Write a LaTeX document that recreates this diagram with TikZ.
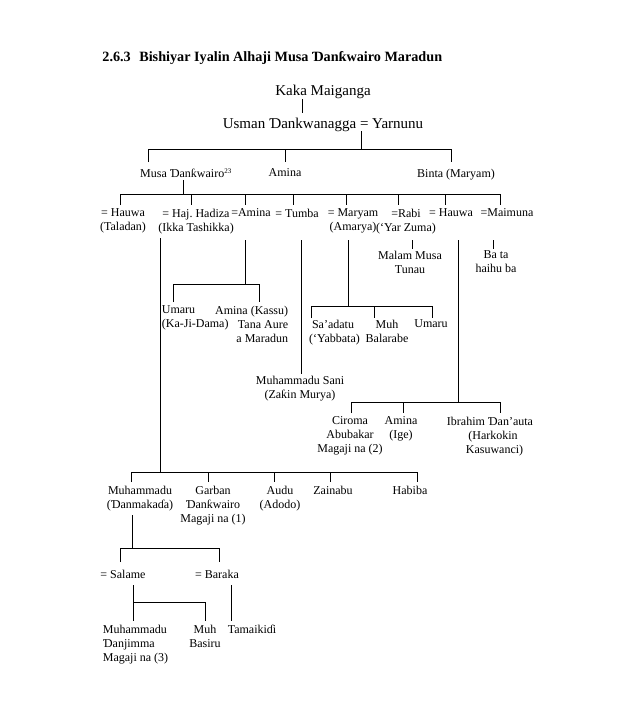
\documentclass[tikz,border=0pt]{standalone}
\usepackage{fontspec}
\setmainfont{Liberation Serif}
\begin{document}
\begin{tikzpicture}[
		x=1pt,y=-1pt,
		line width=0.8pt,
		name node/.style={anchor=north, inner sep=1.5pt, align=center, font=\fontsize{12}{14}\selectfont},
		big node/.style={anchor=north, inner sep=1.5pt, font=\fontsize{15}{17}\selectfont}
	]
		\useasboundingbox (0,0) rectangle (640,709);
		\node[anchor=base west,inner sep=0,font=\fontsize{14.2}{16}\selectfont\bfseries] (title) at (102,62)
		{2.6.3\hspace{0.6em}Bishiyar Iyalin Alhaji Musa Ɗanƙwairo Maradun};

		% generations 0 and 1
		\node[big node] (kaka) at (323,83) {Kaka Maiganga};
		\node[big node] (usman) at (323,116) {Usman Ɗankwanagga = Yarnunu};
		\draw (302,99) -- (302,113);
		\coordinate (uc) at (361,131);
		\draw (uc) -- (361,149);
		\draw (148,162) |- (451,149) -- (451,162);
		\draw (285,149) -- (285,162);

		\node[name node] (musa) at (186,167) {Musa Ɗanƙwairo\textsuperscript{\scriptsize 23}};
		\node[name node] (amina0) at (285,167) {Amina};
		\node[name node] (binta) at (456,167) {Binta (Maryam)};

		% wives of Musa
		\coordinate (mj) at (183,194);
		\draw (musa.south -| mj) -- (mj);
		\draw (120,205) |- (500,194) -- (500,205);
		\foreach \x in {191,245,293,346,398,445} {
			\draw (\x,194) -- (\x,205);
		}
		\node[name node] (w1) at (123,207) {= Hauwa\\(Taladan)};
		\node[name node] (w2) at (196,207) {= Haj.\ Hadiza\\(Ikka Tashikka)};
		\node[name node] (w3) at (251,207) {=Amina};
		\node[name node] (w4) at (297,207) {= Tumba};
		\node[name node] (w5) at (353,207) {= Maryam\\(Amarya)};
		\node[name node] (w6) at (406,207) {=Rabi\\(‘Yar Zuma)};
		\node[name node] (w7) at (451,207) {= Hauwa};
		\node[name node] (w8) at (507,207) {=Maimuna};

		% children of the wives
		\node[name node] (malam) at (410,249) {Malam Musa\\Tunau};
		\node[name node] (bata) at (496,249) {Ba ta\\haihu ba};
		\draw (412,240) -- (malam.north -| 412,0);
		\draw (493,240) -- (bata.north -| 493,0);

		\node[name node, anchor=north west, align=left] (umaru1) at (160,304) {Umaru\\(Ka-Ji-Dama)};
		\node[name node, anchor=north east, align=right] (kassu) at (290,304) {Amina (Kassu)\\Tana Aure\\a Maradun};
		\draw (245,240) -- (245,284);
		\draw (173,302) |- (259,284) -- (259,302);

		\node[name node] (sani) at (300,374) {Muhammadu Sani\\(Zaƙin Murya)};
		\draw (301,240) -- (sani.north -| 301,0);

		\node[name node] (saadatu) at (333,318) {Sa’adatu\\\ (‘Yabbata)};
		\node[name node] (balarabe) at (387,318) {Muh\\Balarabe};
		\node[name node] (umaru2) at (431,318) {Umaru};
		\draw (348,240) -- (348,306);
		\draw (311,318) |- (432,306) -- (432,318);
		\draw (374,306) -- (374,318);

		\node[name node] (ciroma) at (350,415) {Ciroma\\Abubakar\\Magaji na (2)};
		\node[name node] (ige) at (401,415) {Amina\\(Ige)};
		\node[name node] (ibrahim) at (490,415) {Ibrahim Ɗan’auta\\\ \ (Harkokin\\\ \ \ Kasuwanci)};
		\draw (458,240) -- (458,402);
		\draw (351,413) |- (500,402) -- (500,413);
		\draw (403,402) -- (403,413);

		% children of Hadiza
		\draw (160,238) -- (160,472);
		\draw (131,482) |- (417,472) -- (417,482);
		\foreach \x in {208,274,330} {
			\draw (\x,472) -- (\x,482);
		}
		\node[name node] (dmk) at (140,484) {Muhammadu\\(Ɗanmakaɗa)};
		\node[name node] (garban) at (213,484) {Garban\\Ɗanƙwairo\\Magaji na (1)};
		\node[name node] (audu) at (280,484) {Audu\\(Adodo)};
		\node[name node] (zainabu) at (333,484) {Zainabu};
		\node[name node] (habiba) at (410,484) {Habiba};

		% wives and children of Muhammadu
		\draw (132,515) -- (132,548);
		\draw (120,562) |- (219,548) -- (219,562);
		\node[name node] (salame) at (123,568) {= Salame};
		\node[name node] (baraka) at (217,568) {= Baraka};
		\draw (133,585) -- (133,621);
		\draw (133,602) -| (205,621);
		\draw (231,585) -- (231,621);
		\node[name node, anchor=north west, align=left] (djm) at (101,623) {Muhammadu\\Ɗanjimma\\Magaji na (3)};
		\node[name node] (basiru) at (205,623) {Muh\\Basiru};
		\node[name node] (tamai) at (252,623) {Tamaikiɗi};
\end{tikzpicture}
\end{document}
